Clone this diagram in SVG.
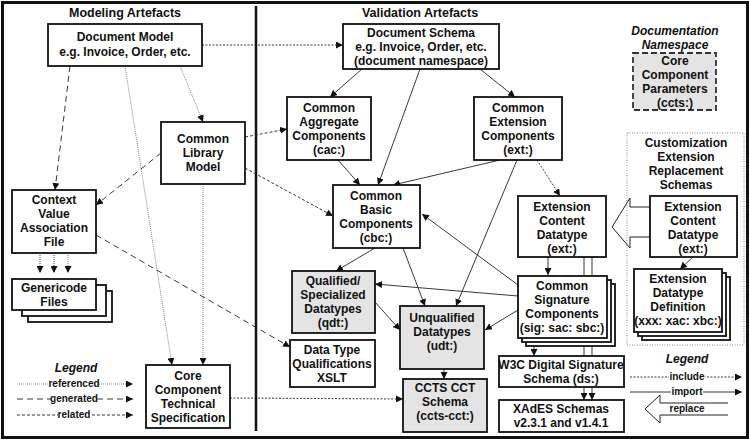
<svg xmlns="http://www.w3.org/2000/svg" width="750" height="440" viewBox="0 0 750 440">
<style>
text{font-family:"Liberation Sans",Arial,sans-serif;font-weight:bold;font-size:12px;fill:#111;text-anchor:middle}
.t{font-size:12.5px}
.it{font-style:italic}
.n{fill:#fff;stroke:#111;stroke-width:1.8}
.g{fill:#e4e4e4;stroke:#111;stroke-width:1.8}
.c{fill:none;stroke:#222;stroke-width:0.9}
.inc{stroke-dasharray:2,1.5}
.ref{stroke:#777;stroke-dasharray:1,1}
.gen{stroke-dasharray:6,4}
.rel{stroke-dasharray:3,2}
.lg{font-size:10px}
</style>
<defs>
<marker id="a" viewBox="0 0 10 10" refX="10" refY="5" markerWidth="7" markerHeight="7" orient="auto" markerUnits="userSpaceOnUse"><path d="M0,0L10,5L0,10z" fill="#111"/></marker>
</defs>
<rect x="2.5" y="2.5" width="745" height="435" fill="#fff" stroke="#111" stroke-width="3"/>
<line x1="256" y1="6" x2="256" y2="431" stroke="#111" stroke-width="2.5"/>
<text class="t" x="125" y="17">Modeling Artefacts</text>
<text class="t" x="420" y="17">Validation Artefacts</text>

<g id="connectors">
<path class="c inc" d="M202,45H343" marker-end="url(#a)"/>
<path class="c gen" d="M70,66L55,190" marker-end="url(#a)"/>
<path class="c ref" d="M125,66L172,365" marker-end="url(#a)"/>
<path class="c ref" d="M180,66L203,122" marker-end="url(#a)"/>
<path class="c gen" d="M161,153L96,205" marker-end="url(#a)"/>
<path class="c rel" d="M245,137L287,129" marker-end="url(#a)"/>
<path class="c rel" d="M245,168L333,216" marker-end="url(#a)"/>
<path class="c ref" d="M203,184V365" marker-end="url(#a)"/>
<path class="c ref" d="M40,253V273M54,253V273M68,253V273" marker-end="url(#a)"/>
<path class="c ref" d="M40,253V273" marker-end="url(#a)"/>
<path class="c ref" d="M54,253V273" marker-end="url(#a)"/>
<path class="c gen" d="M96,235L290,347" marker-end="url(#a)"/>
<path class="c inc" d="M230,398L403,399" marker-end="url(#a)"/>
<path class="c" d="M362,69L330,97" marker-end="url(#a)"/>
<path class="c" d="M420,69L378,185" marker-end="url(#a)"/>
<path class="c" d="M480,69L515,97" marker-end="url(#a)"/>
<path class="c" d="M338,160L360,185" marker-end="url(#a)"/>
<path class="c" d="M500,160L393,185" marker-end="url(#a)"/>
<path class="c" d="M517,160L456,306" marker-end="url(#a)"/>
<path class="c inc" d="M537,160L560,196" marker-end="url(#a)"/>
<path class="c" d="M375,248L336,271" marker-end="url(#a)"/>
<path class="c" d="M403,248L425,306" marker-end="url(#a)"/>
<path class="c" d="M375,302L400,330" marker-end="url(#a)"/>
<path class="c" d="M518,285L422,214" marker-end="url(#a)"/>
<path class="c" d="M518,296L375,284" marker-end="url(#a)"/>
<path class="c" d="M518,310L485,330" marker-end="url(#a)"/>
<path class="c" d="M693,257L680,269" marker-end="url(#a)"/>
<path class="c" d="M444,369V379" marker-end="url(#a)"/>
<path class="c" d="M548,257V275" marker-end="url(#a)"/>
<path class="c" d="M534,346V356" marker-end="url(#a)"/>
<path class="c" d="M584,257V275M592,257V275M584,346V356M592,346V356"/>
<path class="c" d="M584,387V400" marker-end="url(#a)"/>
<path class="c" d="M592,387V400" marker-end="url(#a)"/>
<path d="M650,207H630V198L612,227L630,248V237H650" fill="#fff" stroke="#222" stroke-width="1"/>
</g>

<g id="docmodel"><rect class="n" x="48" y="24" width="154" height="42"/><text x="125" y="41">Document Model</text><text x="125" y="56">e.g. Invoice, Order, etc.</text></g>
<g id="docschema"><rect class="n" x="343" y="24" width="156" height="45"/><text x="421" y="37">Document Schema</text><text x="421" y="51">e.g. Invoice, Order, etc.</text><text x="421" y="65">(document namespace)</text></g>
<g id="cac"><rect class="n" x="287" y="97" width="84" height="63"/><text x="329" y="112">Common</text><text x="329" y="126">Aggregate</text><text x="329" y="140">Components</text><text x="329" y="154">(cac:)</text></g>
<g id="ext"><rect class="n" x="474" y="97" width="88" height="63"/><text x="518" y="112">Common</text><text x="518" y="126">Extension</text><text x="518" y="140">Components</text><text x="518" y="154">(ext:)</text></g>
<g id="library"><rect class="n" x="161" y="122" width="84" height="62"/><text x="203" y="143">Common</text><text x="203" y="157">Library</text><text x="203" y="171">Model</text></g>
<g id="doccomp"><text class="it" x="675" y="35">Documentation</text><text class="it" x="675" y="49">Namespace</text>
<rect x="633" y="53" width="83" height="57" fill="#e4e4e4" stroke="#333" stroke-width="1.8" stroke-dasharray="6,3"/><text x="675" y="65">Core</text><text x="675" y="79">Component</text><text x="675" y="93">Parameters</text><text x="675" y="107">(ccts:)</text></g>
<g id="cva"><rect class="n" x="12" y="190" width="84" height="63"/><text x="54" y="204">Context</text><text x="54" y="218">Value</text><text x="54" y="232">Association</text><text x="54" y="246">File</text></g>
<g id="genericode"><rect class="n" x="28" y="291" width="84" height="31"/><rect class="n" x="22" y="285" width="84" height="31"/><rect class="n" x="17" y="279" width="84" height="31" transform="translate(-5,0)"/><text x="54" y="292">Genericode</text><text x="54" y="306">Files</text></g>
<g id="cbc"><rect class="n" x="333" y="185" width="87" height="63"/><text x="376" y="200">Common</text><text x="376" y="214">Basic</text><text x="376" y="228">Components</text><text x="376" y="242">(cbc:)</text></g>
<g id="custom"><rect x="627" y="133" width="117" height="212" fill="none" stroke="#888" stroke-width="1" stroke-dasharray="1,1.5"/><text x="686" y="147">Customization</text><text x="686" y="161">Extension</text><text x="686" y="175">Replacement</text><text x="686" y="189">Schemas</text></g>
<g id="ecd"><rect class="n" x="518" y="196" width="88" height="61"/><text x="562" y="211">Extension</text><text x="562" y="225">Content</text><text x="562" y="239">Datatype</text><text x="562" y="253">(ext:)</text></g>
<g id="ecd2"><rect class="n" x="650" y="196" width="87" height="61"/><text x="693" y="211">Extension</text><text x="693" y="225">Content</text><text x="693" y="239">Datatype</text><text x="693" y="253">(ext:)</text></g>
<g id="edd"><rect class="n" x="642" y="277" width="88" height="63"/><rect class="n" x="638" y="273" width="88" height="63"/><rect class="n" x="634" y="269" width="88" height="63"/><text x="678" y="283">Extension</text><text x="678" y="297">Datatype</text><text x="678" y="311">Definition</text><text x="678" y="325">(xxx: xac: xbc:)</text></g>
<g id="qdt"><rect class="g" x="292" y="271" width="83" height="62"/><text x="333" y="285">Qualified/</text><text x="333" y="299">Specialized</text><text x="333" y="313">Datatypes</text><text x="333" y="327">(qdt:)</text></g>
<g id="udt"><rect class="g" x="400" y="306" width="84" height="63"/><text x="442" y="322">Unqualified</text><text x="442" y="336">Datatypes</text><text x="442" y="350">(udt:)</text></g>
<g id="dtq"><rect class="n" x="290" y="340" width="85" height="47"/><text x="332" y="354">Data Type</text><text x="332" y="368">Qualifications</text><text x="332" y="382">XSLT</text></g>
<g id="sig"><rect class="n" x="526" y="284" width="89" height="62"/><rect class="n" x="522" y="280" width="89" height="62"/><rect class="n" x="518" y="276" width="89" height="62"/><text x="562" y="290">Common</text><text x="562" y="304">Signature</text><text x="562" y="318">Components</text><text x="562" y="332">(sig: sac: sbc:)</text></g>
<g id="w3c"><rect class="n" x="499" y="356" width="125" height="31"/><text x="561" y="369">W3C Digital Signature</text><text x="561" y="383">Schema (ds:)</text></g>
<g id="xades"><rect class="n" x="499" y="400" width="125" height="32"/><text x="561" y="413">XAdES Schemas</text><text x="561" y="427">v2.3.1 and v1.4.1</text></g>
<g id="cct"><rect class="g" x="403" y="379" width="84" height="53"/><text x="445" y="392">CCTS CCT</text><text x="445" y="406">Schema</text><text x="445" y="420">(ccts-cct:)</text></g>
<g id="ccts"><rect class="n" x="146" y="365" width="84" height="63"/><text x="188" y="380">Core</text><text x="188" y="394">Component</text><text x="188" y="408">Technical</text><text x="188" y="422">Specification</text></g>

<g id="legend1"><text class="it" x="76" y="372">Legend</text>
<path class="c ref" d="M17,384H133" marker-end="url(#a)"/><rect x="49" y="378" width="50" height="11" fill="#fff"/><text class="lg" x="74" y="387">referenced</text>
<path class="c gen" d="M17,399H133" marker-end="url(#a)"/><rect x="51" y="393" width="46" height="11" fill="#fff"/><text class="lg" x="74" y="402">generated</text>
<path class="c rel" d="M17,415H133" marker-end="url(#a)"/><rect x="58" y="409" width="32" height="11" fill="#fff"/><text class="lg" x="74" y="418">related</text></g>
<g id="legend2"><text class="it" x="687" y="363">Legend</text>
<path class="c inc" d="M630,377H742" marker-end="url(#a)"/><rect x="669" y="371" width="36" height="11" fill="#fff"/><text class="lg" x="687" y="380">include</text>
<path class="c" d="M630,392H742" marker-end="url(#a)"/><rect x="671" y="386" width="32" height="11" fill="#fff"/><text class="lg" x="687" y="395">import</text>
<path d="M728,403H660V395L645,409L660,423V415H728" fill="none" stroke="#222" stroke-width="1"/><text class="lg" x="687" y="412">replace</text></g>
</svg>
